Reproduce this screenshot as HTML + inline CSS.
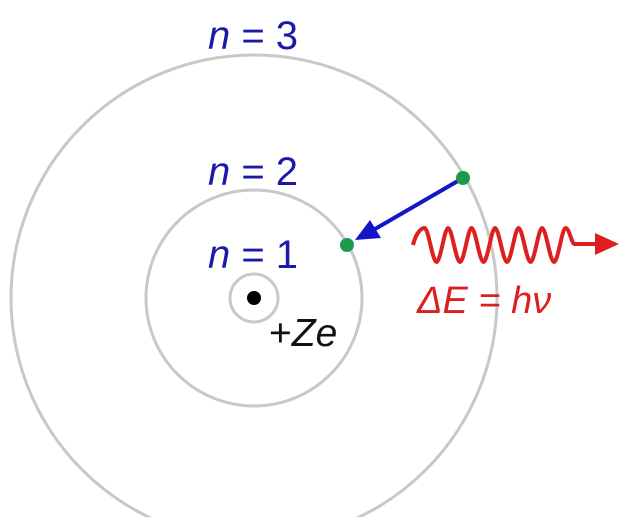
<!DOCTYPE html>
<html><head><style>body{margin:0;background:#fff}</style></head><body>
<svg width="620" height="517" viewBox="0 0 620 517" xmlns="http://www.w3.org/2000/svg" style="display:block">
<g fill="none" stroke="#c8c8c8" stroke-width="3">
<circle cx="254" cy="298" r="243"/>
<circle cx="254" cy="298" r="108"/>
<circle cx="254" cy="298" r="24"/>
</g>
<circle cx="254" cy="298" r="7" fill="#000"/>
<g font-family="Liberation Sans, sans-serif" font-size="40" fill="#1a1aaa" text-anchor="middle">
<text x="253" y="49"><tspan font-style="italic">n</tspan> = 3</text>
<text x="253" y="185"><tspan font-style="italic">n</tspan> = 2</text>
<text x="253" y="268"><tspan font-style="italic">n</tspan> = 1</text>
</g>
<text x="269" y="346" font-family="Liberation Sans, sans-serif" font-size="39" fill="#111">+<tspan font-style="italic">Ze</tspan></text>
<line x1="463" y1="178" x2="375" y2="229" stroke="#1515c8" stroke-width="4"/>
<polygon points="355,240 370,220 381,238" fill="#1515c8"/>
<circle cx="463" cy="178" r="7" fill="#1a9a4a"/>
<circle cx="347" cy="245" r="7" fill="#1a9a4a"/>
<path d="M413,245 c3,-12 8,-17 11.5,-17 c4,0 8,34 12,34 c4,0 8,-34 11.5,-34 c4,0 8,34 12,34 c4,0 8,-34 11.5,-34 c4,0 8,34 12,34 c4,0 8,-34 11.5,-34 c4,0 8,34 12,34 c4,0 8,-34 11.5,-34 c4,0 8,34 12,34 c4,0 8,-34 11.5,-34 c4,0 8,34 12,34 c4,0 8,-34 11.5,-34 c4,0 6,16 9,16 L597,244" fill="none" stroke="#dd1f1f" stroke-width="4"/>
<polygon points="595,233 619,244 595,255" fill="#dd1f1f"/>
<text x="417" y="313" font-family="Liberation Sans, sans-serif" font-size="38" font-style="italic" fill="#dd1f1f">ΔE = hν</text>
</svg>
</body></html>
